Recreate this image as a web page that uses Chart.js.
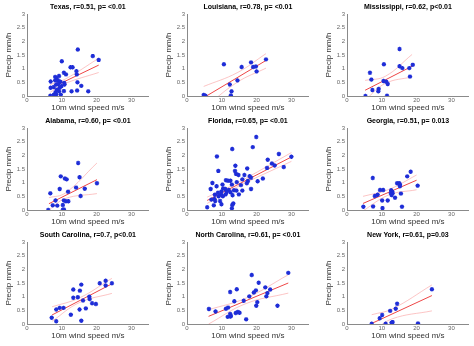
<!DOCTYPE html>
<html lang="en">
<head>
<meta charset="UTF-8">
<title>Precip vs 10m wind speed</title>
<script src="https://cdn.jsdelivr.net/npm/chart.js"></script>
<style>
  body { margin: 0; background: #fff; width: 474px; height: 346px; position: relative; overflow: hidden; }
  canvas { position: absolute; }
</style>
</head>
<body>
<script>
// panel titles, in reading order
const titles = [
  'Texas, r=0.51, p= <0.01', 'Louisiana, r=0.78, p= <0.01', 'Mississippi, r=0.62, p<0.01',
  'Alabama, r=0.60, p= <0.01', 'Florida, r=0.65, p= <0.01', 'Georgia, r=0.51, p= 0.013',
  'South Carolina, r=0.7, p<0.01', 'North Carolina, r=0.61, p= <0.01', 'New York, r=0.61, p=0.03'
];
const xTicks = [0, 10, 20, 30];
const yTicks = [0, 0.5, 1, 1.5, 2, 2.5, 3];

// wind speed (x) and precip (y) per state
const texasX = [14.6,18.9,20.6,10.0,12.5,13.1,10.6,11.2,14.2,14.3,8.1,8.5,9.2,8.1,8.9,6.8,9.6,10.7,8.4,9.0,9.9,6.8,7.7,9.4,10.8,14.5,15.6,8.6,9.2,10.6,8.2,12.8,14.4,17.6,7.7,6.7,8.4,9.7];
const texasY = [1.70,1.46,1.32,1.27,1.05,1.05,0.85,0.79,0.91,0.79,0.70,0.65,0.73,0.57,0.57,0.53,0.52,0.48,0.42,0.44,0.36,0.30,0.33,0.30,0.42,0.50,0.37,0.23,0.17,0.18,0.14,0.17,0.20,0.17,0.05,0.01,0.06,0.05];
const louisianaX = [10.6,18.4,22.7,15.7,19.0,19.8,20.0,14.5,12.3,12.8,12.6,4.8,5.3];
const louisianaY = [1.16,1.23,1.34,1.06,1.06,1.08,0.90,0.57,0.42,0.17,0.02,0.04,0.01];
const mississippiX = [15.1,18.9,15.1,15.9,17.9,10.6,6.6,7.0,18.1,10.5,11.3,11.7,9.1,7.3,9.0,11.5,5.3];
const mississippiY = [1.72,1.14,1.09,1.02,1.02,1.16,0.85,0.60,0.71,0.55,0.52,0.44,0.26,0.22,0.17,0.01,0.00];
const alabamaX = [14.7,9.7,15.1,10.9,11.4,20.1,14.1,16.6,9.4,11.8,6.7,15.4,8.2,10.6,11.2,11.9,7.4,8.7,10.3,6.1,10.3,10.6];
const alabamaY = [1.72,1.23,1.20,1.15,1.12,0.98,0.82,0.78,0.77,0.67,0.61,0.51,0.35,0.35,0.32,0.32,0.17,0.16,0.18,0.00,0.01,0.02];
const floridaX = [19.9,18.9,13.0,8.6,30.0,26.4,23.2,13.9,9.0,13.8,17.3,24.4,25.2,23.0,27.8,14.1,14.8,16.5,18.0,18.4,15.9,11.2,11.8,12.5,14.3,17.5,20.3,21.8,7.3,10.2,12.9,15.5,17.2,8.5,6.8,10.4,11.0,12.0,13.5,14.2,15.9,18.4,9.9,8.9,11.4,12.5,8.0,9.8,11.1,13.1,14.9,9.1,10.3,7.9,7.0,8.1,9.5,13.3,13.0,9.9,7.7,5.8,12.9];
const floridaY = [2.67,2.30,2.23,1.96,1.95,2.05,1.84,1.62,1.43,1.43,1.52,1.70,1.63,1.54,1.57,1.32,1.28,1.28,1.24,1.18,1.12,1.09,1.07,1.07,1.02,1.06,1.05,1.15,0.99,0.93,0.93,0.91,0.98,0.87,0.77,0.79,0.77,0.73,0.72,0.71,0.71,0.77,0.68,0.63,0.66,0.65,0.56,0.57,0.57,0.54,0.57,0.50,0.50,0.40,0.38,0.33,0.33,0.24,0.18,0.21,0.17,0.10,0.06];
const georgiaX = [18.3,17.3,7.4,20.3,14.4,15.0,15.2,15.2,9.5,10.4,12.7,13.0,12.6,13.1,15.5,12.8,8.8,8.0,13.8,10.1,11.7,4.7,7.5,15.8,10.2];
const georgiaY = [1.40,1.23,1.17,0.89,0.98,0.98,0.93,0.87,0.73,0.73,0.72,0.67,0.62,0.61,0.60,0.55,0.56,0.51,0.45,0.35,0.35,0.12,0.13,0.12,0.07];
const southCarolinaX = [22.6,24.4,20.9,22.6,15.6,13.3,15.2,14.6,13.3,17.9,18.0,16.1,18.7,19.8,16.9,15.1,9.4,10.5,8.4,12.6,7.1,8.4,15.6];
const southCarolinaY = [1.58,1.49,1.49,1.41,1.44,1.26,1.22,0.98,0.96,1.00,0.91,0.86,0.76,0.73,0.57,0.53,0.59,0.59,0.53,0.34,0.23,0.10,0.12];
const northCarolinaX = [29.1,18.6,20.6,22.5,14.3,19.8,23.9,12.4,19.2,23.1,22.8,17.9,13.6,16.3,20.2,19.9,26.0,11.8,11.2,6.3,8.2,14.6,15.1,14.0,12.4,12.6,12.5,11.7,17.0];
const northCarolinaY = [1.87,1.79,1.51,1.34,1.27,1.23,1.26,1.17,1.15,1.13,1.01,1.01,0.83,0.85,0.80,0.67,0.67,0.60,0.56,0.55,0.46,0.44,0.41,0.40,0.37,0.30,0.27,0.26,0.17];
const newYorkX = [24.4,14.4,14.0,12.4,10.1,9.4,13.1,12.8,11.1,20.4,7.1];
const newYorkY = [1.27,0.74,0.56,0.48,0.33,0.21,0.07,0.05,0.01,0.02,0.01];

// regression line ends and confidence band (start, middle, end)
const fitX = [[6.7,20.6],[4.8,22.7],[5.2,18.7],[6.3,20.1],[5.8,30.0],[4.6,20.0],[7.2,24.4],[6.2,29.1],[7.1,24.4]];
const fitY = [[0.28,1.13],[-0.06,1.30],[0.21,1.09],[0.23,1.11],[0.35,1.94],[0.24,1.09],[0.33,1.47],[0.28,1.50],[0.02,1.04]];
const bandMidX = [11, 14.4, 11, 11, 14, 12, 15, 17, 13];
const bandUpper = [[0.42,0.62,1.38],[0.35,0.85,1.55],[0.57,0.72,1.52],[0.45,0.62,1.72],[0.47,0.96,2.10],[0.50,0.75,1.28],[0.63,0.95,1.67],[0.52,0.95,1.80],[0.34,0.55,1.43]];
const bandLower = [[0.14,0.46,0.86],[-0.45,0.50,1.02],[-0.15,0.46,0.70],[0.00,0.42,0.60],[0.24,0.82,1.78],[-0.03,0.55,0.74],[0.10,0.78,1.12],[0.00,0.75,1.13],[-0.30,0.19,0.48]];

const seriesX = [texasX, louisianaX, mississippiX, alabamaX, floridaX, georgiaX, southCarolinaX, northCarolinaX, newYorkX];
const seriesY = [texasY, louisianaY, mississippiY, alabamaY, floridaY, georgiaY, southCarolinaY, northCarolinaY, newYorkY];

const FONT = 'Liberation Sans, Arial, sans-serif';
const rowTops = [0, 114, 228];

titles.forEach((title, i) => {
  const canvas = document.createElement('canvas');
  canvas.width = 154;
  canvas.height = 115;
  canvas.style.left = (i % 3) * 160 + 'px';
  canvas.style.top = rowTops[Math.floor(i / 3)] + 'px';
  document.body.appendChild(canvas);

  const xs = seriesX[i], ys = seriesY[i];
  const pts = xs.map((x, k) => ({ x: x, y: ys[k] }));
  const bx = [fitX[i][0], bandMidX[i], fitX[i][1]];
  const band = vals => bx.map((x, k) => ({ x: x, y: vals[k] }));

  new Chart(canvas, {
    type: 'scatter',
    data: {
      datasets: [
        {
          data: pts,
          pointStyle: 'star',
          pointRadius: 2.2,
          borderWidth: 1.2,
          borderColor: 'rgb(30,45,215)',
          backgroundColor: 'rgb(30,45,215)'
        },
        {
          data: [{ x: fitX[i][0], y: fitY[i][0] }, { x: fitX[i][1], y: fitY[i][1] }],
          showLine: true, pointRadius: 0, borderWidth: 1,
          borderColor: 'rgb(238,70,70)'
        },
        {
          data: band(bandUpper[i]),
          showLine: true, pointRadius: 0, borderWidth: 0.8, tension: 0.4,
          borderColor: 'rgba(250,150,150,0.7)'
        },
        {
          data: band(bandLower[i]),
          showLine: true, pointRadius: 0, borderWidth: 0.8, tension: 0.4,
          borderColor: 'rgba(250,150,150,0.7)'
        }
      ]
    },
    options: {
      responsive: false,
      animation: false,
      layout: { padding: { top: 0, right: 5, left: 0, bottom: 0 } },
      plugins: {
        legend: { display: false },
        tooltip: { enabled: false },
        title: {
          display: true,
          text: title,
          fullSize: false,
          color: '#000',
          font: { family: FONT, size: 7, weight: 'bold' },
          padding: { top: 3, bottom: 2.6 }
        }
      },
      scales: {
        x: {
          type: 'linear',
          min: 0, max: 35,
          afterBuildTicks: s => { s.ticks = xTicks.map(v => ({ value: v })); },
          afterFit: s => { s.height = 19; },
          grid: { display: true, drawOnChartArea: false, drawTicks: false },
          border: { color: '#8a8a8a', width: 1 },
          ticks: { color: '#666', padding: 1, font: { family: FONT, size: 6 } },
          title: {
            display: true, text: '10m wind speed m/s', color: '#333',
            font: { family: FONT, size: 8 }, padding: { top: 0, bottom: 2 }
          }
        },
        y: {
          min: 0, max: 3,
          afterBuildTicks: s => { s.ticks = yTicks.map(v => ({ value: v })); },
          afterFit: s => { s.width = 27; },
          grid: { display: true, drawOnChartArea: false, drawTicks: false },
          border: { color: '#8a8a8a', width: 1 },
          ticks: { color: '#666', padding: 2, font: { family: FONT, size: 6 }, callback: v => String(v) },
          title: {
            display: true, text: 'Precip mm/h', color: '#333',
            font: { family: FONT, size: 8 }, padding: { top: 4, bottom: 0 }
          }
        }
      }
    }
  });
});
</script>
</body>
</html>
